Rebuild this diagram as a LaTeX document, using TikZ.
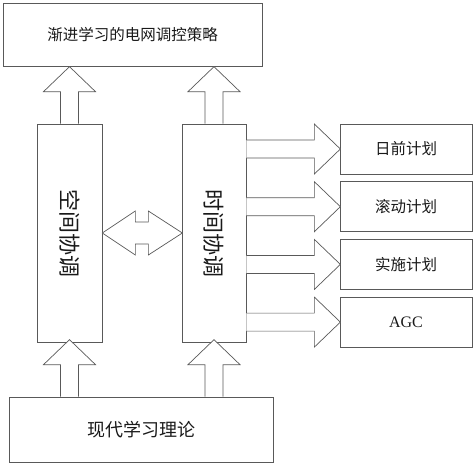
\documentclass[tikz,border=0pt]{standalone}
\usepackage{fontspec}
\setmainfont{Liberation Serif}
\newfontfamily\cjk{Noto Sans CJK SC}
\usetikzlibrary{positioning}

\tikzset{
  box/.style={draw=black!65, line width=0.7pt, rectangle, inner sep=0pt, text=black!90},
  blk/.style={draw=black!65, line width=0.7pt, fill=white, line join=miter},
  uparr/.pic={\draw[blk] (-9,0) -- (-9,-32) -- (-26,-32) -- (0,-57) -- (26,-32) -- (9,-32) -- (9,0);},
  rarr/.pic={\draw[blk] (0,-9) -- (68,-9) -- (68,-25) -- (94,0) -- (68,25) -- (68,9) -- (0,9);},
  dblarr/.pic={\draw[blk] (0,0) -- (33,-22) -- (33,-11) -- (46,-11) -- (46,-22) -- (80,0)
      -- (46,22) -- (46,11) -- (33,11) -- (33,22) -- cycle;}
}

\begin{document}
\begin{tikzpicture}[x=1pt,y=-1pt]
\useasboundingbox (0,0) rectangle (474,464);

\node[box, minimum width=259, minimum height=63] (strat) at (132.5,34.5)
  {\cjk\fontsize{15.5}{18}\selectfont 渐进学习的电网调控策略};
\node[box, rotate=-90, minimum width=218, minimum height=65] (space) at (69.5,233)
  {\cjk\fontsize{22}{26}\selectfont 空间协调};
\node[box, rotate=-90, minimum width=218, minimum height=64] (time) at (214,233)
  {\cjk\fontsize{22}{26}\selectfont 时间协调};
\node[box, minimum width=264, minimum height=65] (theory) at (141,429.5)
  {\cjk\fontsize{18}{22}\selectfont 现代学习理论};

\node[box, minimum width=132, minimum height=50] (p1) at (406,149)
  {\cjk\fontsize{15.5}{18}\selectfont 日前计划};
\node[box, minimum width=132, minimum height=50, below=7pt of p1] (p2)
  {\cjk\fontsize{15.5}{18}\selectfont 滚动计划};
\node[box, minimum width=132, minimum height=50, below=7pt of p2] (p3)
  {\cjk\fontsize{15.5}{18}\selectfont 实施计划};
\node[box, minimum width=132, minimum height=50, below=7pt of p3] (agc)
  {\fontsize{16}{19}\selectfont AGC};

% arrows up
\pic at (space.west) {uparr};
\pic at (time.west) {uparr};
\pic at (space.east |- theory.north) {uparr};
\pic at (time.east |- theory.north) {uparr};

% space <-> time
\pic at (space.north) {dblarr};

% time to plans
\foreach \p in {p1,p2,p3,agc}
  \pic at (time.north |- \p.west) {rarr};
\end{tikzpicture}
\end{document}
